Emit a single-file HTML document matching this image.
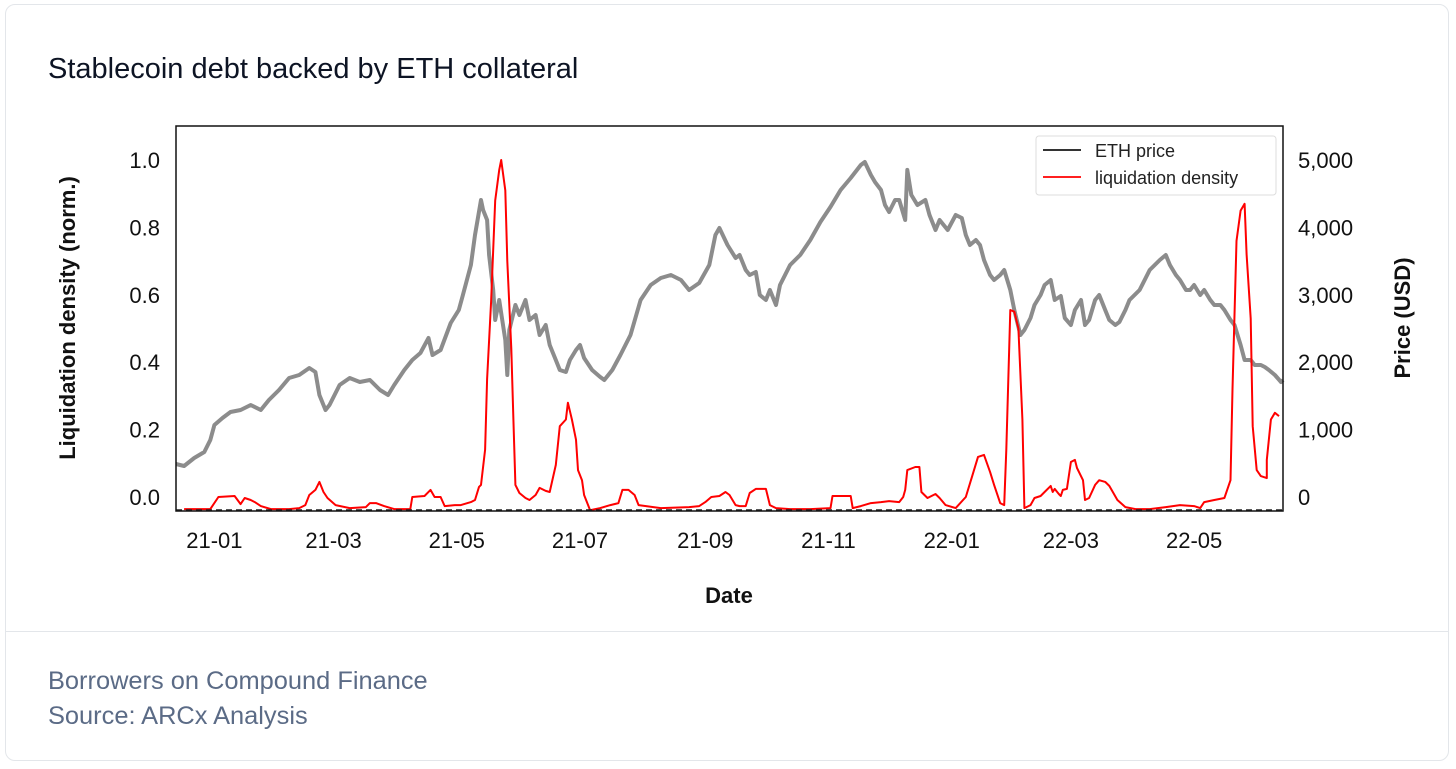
<!DOCTYPE html>
<html><head><meta charset="utf-8">
<style>
html,body{margin:0;padding:0;background:#fff;width:1456px;height:769px;overflow:hidden;font-family:"Liberation Sans",sans-serif;}
.card{position:absolute;left:5px;top:4px;width:1444px;height:757px;border:1px solid #e3e6ea;border-radius:10px;box-sizing:border-box;}
.title{position:absolute;left:48px;top:53px;font-size:29px;color:#0d1424;letter-spacing:0px;}
.divider{position:absolute;left:6px;top:631px;width:1442px;height:1px;background:#e3e6ea;}
.foot{position:absolute;left:48px;font-size:25.4px;color:#5b6b86;}
svg{position:absolute;left:0;top:0;}
</style></head><body>
<div class="card"></div>
<div class="title">Stablecoin debt backed by ETH collateral</div>
<div class="divider"></div>
<div class="foot" style="top:667px">Borrowers on Compound Finance</div>
<div class="foot" style="top:702px">Source: ARCx Analysis</div>
<svg id="chart" width="1456" height="769"></svg>
<script>
// day offsets from 2020-12-13
const priceDays=[0,4,9,14,17,19,23,27,32,37,42,46,51,56,61,66,69,71,74,76,81,86,91,96,101,105,108,113,117,121,125,127,131,136,140,142,146,148,151,152,154,155,157,158,160,163,164,165,168,170,173,175,178,180,183,185,188,190,193,195,198,200,202,206,210,212,216,220,225,230,235,240,245,250,254,259,264,267,269,273,277,279,282,284,287,289,292,294,297,299,304,309,314,319,324,329,334,339,341,344,346,349,351,353,356,358,361,362,364,367,371,373,376,378,382,386,389,391,393,396,398,400,403,405,408,410,413,415,418,420,423,425,428,430,433,435,438,440,443,445,448,450,452,455,457,460,462,465,467,470,472,477,482,487,490,492,495,497,500,502,504,507,509,512,514,517,519,522,524,527,529,532,534,537,539,541,544,547,548];
const priceUSD=[490,460,579,668,846,1068,1172,1261,1291,1365,1291,1439,1588,1766,1810,1914,1855,1514,1291,1365,1662,1766,1707,1736,1588,1514,1662,1885,2033,2137,2360,2107,2181,2582,2775,2998,3443,3888,4407,4259,4111,3591,3072,2627,2923,2330,1810,2478,2849,2701,2923,2627,2701,2404,2552,2256,2033,1885,1855,2033,2181,2256,2063,1885,1781,1736,1885,2107,2404,2923,3146,3250,3294,3220,3072,3176,3443,3888,3992,3740,3547,3591,3369,3294,3339,2998,2923,3072,2849,3146,3443,3591,3814,4081,4304,4556,4734,4927,4971,4778,4675,4556,4333,4229,4407,4407,4111,4853,4482,4333,4407,4185,3962,4111,3962,4185,4140,3888,3740,3814,3740,3517,3294,3220,3294,3369,3072,2775,2404,2478,2656,2849,2998,3146,3220,2923,2983,2656,2552,2775,2923,2552,2627,2923,2998,2775,2627,2552,2597,2775,2923,3072,3369,3517,3591,3443,3294,3220,3072,3072,3146,2998,3072,2923,2849,2849,2775,2627,2552,2256,2033,2033,1959,1959,1929,1885,1810,1707,1736];
const liqDays=[4,17,21,29,32,34,37,39,42,47,56,61,64,66,69,71,73,75,79,86,94,96,99,103,108,116,117,123,126,128,131,133,138,141,146,148,150,151,153,154,156,158,160,161,163,164,166,167,168,170,173,175,178,180,183,185,188,190,193,194,196,198,199,201,202,205,210,215,219,221,224,227,229,240,254,259,262,265,269,272,274,277,279,282,284,287,292,294,297,304,309,314,324,325,334,335,339,344,349,353,358,360,361,362,366,368,369,372,376,378,381,386,391,394,397,400,403,405,408,410,411,413,415,417,419,420,423,425,428,430,433,434,435,437,438,439,441,443,445,446,449,450,452,455,457,460,462,466,470,475,482,490,497,504,507,509,514,519,522,523,525,527,529,530,532,533,535,537,540,540,542,544,546];
const liqDensity=[-.036,-.036,0,.003,-.021,-.003,-.009,-.015,-.027,-.036,-.036,-.033,-.024,.006,.021,.045,.015,-.003,-.024,-.033,-.03,-.018,-.018,-.027,-.036,-.036,0,.003,.021,0,0,-.027,-.024,-.024,-.015,-.009,.03,.036,.14,.35,.58,.88,.97,1.0,.91,.70,.44,.23,.036,.012,-.003,-.009,.006,.027,.018,.015,.095,.21,.23,.28,.23,.17,.08,.05,.006,-.039,-.033,-.024,-.018,.021,.021,.006,-.024,-.033,-.03,-.027,-.015,0,.003,.015,.006,-.024,-.027,-.027,.012,.024,.024,-.024,-.033,-.036,-.036,-.036,-.033,.003,.003,-.033,-.027,-.018,-.015,-.012,-.015,0,.021,.08,.089,.089,.015,-.003,.009,-.003,-.024,-.033,0,.059,.119,.125,.074,.036,-.018,-.024,.14,.555,.55,.50,.23,-.033,-.024,-.003,.003,.015,.033,.015,.024,.009,.003,.021,.024,.104,.11,.086,.05,-.009,-.003,.036,.05,.045,.033,-.009,-.03,-.036,-.036,-.03,-.024,-.027,-.033,-.015,-.009,-.003,.05,.32,.76,.85,.87,.72,.53,.21,.08,.062,.056,.11,.23,.25,.24];
const leftTicks=[0.0,0.2,0.4,0.6,0.8,1.0];
const leftTickLabels=["0.0","0.2","0.4","0.6","0.8","1.0"];
const rightTicks=[0,1000,2000,3000,4000,5000];
const rightTickLabels=["0","1,000","2,000","3,000","4,000","5,000"];
const xTickDays=[19,78,139,200,262,323,384,443,504];
const xTickLabels=["21-01","21-03","21-05","21-07","21-09","21-11","22-01","22-03","22-05"];

const L=176,R=1283,T=126,B=511;
const dayMax=548, yMin=-0.0415, yMax=1.101;
const xS=d=>L+(d/dayMax)*(R-L);
const yL=v=>B-(v-yMin)/(yMax-yMin)*(B-T);
const yR=p=>yL(p/5000);
const NS="http://www.w3.org/2000/svg";
const svg=document.getElementById('chart');
function mk(tag,attrs,parent){const e=document.createElementNS(NS,tag);for(const k in attrs)e.setAttribute(k,attrs[k]);(parent||svg).appendChild(e);return e;}
const F='"Liberation Sans",sans-serif';

let d=priceDays.map((x,i)=>(i?'L':'M')+xS(x).toFixed(1)+','+yR(priceUSD[i]).toFixed(1)).join('');
const pl=mk('path',{d:d,fill:'none',stroke:'#8c8c8c','stroke-width':4,'stroke-linejoin':'round'});


d=liqDays.map((x,i)=>(i?'L':'M')+xS(x).toFixed(1)+','+yL(liqDensity[i]).toFixed(1)).join('');
const ll=mk('path',{d:d,fill:'none',stroke:'#ff0000','stroke-width':2,'stroke-linejoin':'round'});


const db=mk('line',{x1:L,x2:R,y1:B-1,y2:B-1,stroke:'#222','stroke-width':1.5,'stroke-dasharray':'6,4'});


const fr=mk('rect',{x:L,y:T,width:R-L,height:B-T,fill:'none',stroke:'#111','stroke-width':1.5});



leftTicks.forEach((v,i)=>{const t=mk('text',{x:160,y:yL(v)+8,'text-anchor':'end','font-size':22,'font-family':F,fill:'#111'});t.textContent=leftTickLabels[i];

});
rightTicks.forEach((v,i)=>{const t=mk('text',{x:1298,y:yR(v)+8,'font-size':22,'font-family':F,fill:'#111'});t.textContent=rightTickLabels[i];

});
xTickDays.forEach((v,i)=>{const t=mk('text',{x:xS(v),y:548,'text-anchor':'middle','font-size':22,'font-family':F,fill:'#111'});t.textContent=xTickLabels[i];

});

let t=mk('text',{x:729,y:603,'text-anchor':'middle','font-size':22,'font-weight':'bold','font-family':F,fill:'#111'});t.textContent='Date';


t=mk('text',{x:0,y:0,'text-anchor':'middle','font-size':22,'font-weight':'bold','font-family':F,fill:'#111',transform:'translate(75,318) rotate(-90)'});t.textContent='Liquidation density (norm.)';


t=mk('text',{x:0,y:0,'text-anchor':'middle','font-size':22,'font-weight':'bold','font-family':F,fill:'#111',transform:'translate(1410,318) rotate(-90)'});t.textContent='Price (USD)';



const lg=mk('g',{});


mk('rect',{x:1036,y:136,width:240,height:59,rx:3,fill:'#fff',stroke:'#ddd','stroke-width':1},lg);
mk('line',{x1:1043,x2:1081,y1:150,y2:150,stroke:'#333','stroke-width':2},lg);
mk('line',{x1:1043,x2:1081,y1:177,y2:177,stroke:'#ff2020','stroke-width':2},lg);
let e=mk('text',{x:1095,y:157,'font-size':18,'font-family':F,fill:'#222'},lg);e.textContent='ETH price';


e=mk('text',{x:1095,y:184,'font-size':18,'font-family':F,fill:'#222'},lg);e.textContent='liquidation density';


</script>
</body></html>
